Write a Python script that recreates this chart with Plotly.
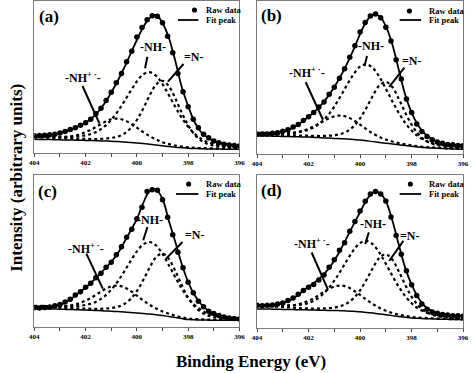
import plotly.graph_objects as go

# ---------------- data ----------------
energy_raw = [404.0, 403.8, 403.6, 403.4, 403.2, 403.0, 402.8, 402.6, 402.4, 402.2, 402.0,
              401.8, 401.6, 401.4, 401.2, 401.0, 400.8, 400.6, 400.4, 400.2, 400.0,
              399.8, 399.6, 399.4, 399.2, 399.0, 398.8, 398.6, 398.4, 398.2, 398.0,
              397.8, 397.6, 397.4, 397.2, 397.0, 396.8, 396.6, 396.4, 396.2, 396.0]
energy_fit = [404.0, 403.75, 403.5, 403.25, 403.0, 402.75, 402.5, 402.25, 402.0, 401.75, 401.5,
              401.25, 401.0, 400.75, 400.5, 400.25, 400.0, 399.75, 399.5, 399.25, 399.0,
              398.75, 398.5, 398.25, 398.0, 397.75, 397.5, 397.25, 397.0, 396.75, 396.5,
              396.25, 396.0]

# panel (a)
raw_a = [17.3, 17.6, 17.7, 18.3, 18.7, 20.1, 21.4, 23.6, 25.3, 27.8, 30.2, 33.8, 39.3, 44.7, 52.4,
         60.8, 70.3, 79.6, 91.2, 101.8, 116.0, 125.6, 133.3, 137.2, 136.8, 130.2, 116.7, 100.3,
         79.6, 61.3, 46.2, 33.7, 25.2, 18.8, 15.2, 11.9, 10.2, 8.8, 8.1, 7.4, 7.1]
fit_a = [17.0, 17.4, 17.9, 18.6, 19.8, 21.8, 24.2, 27.0, 30.5, 35.0, 41.5, 50.0, 60.5, 72.0, 85.0,
         99.0, 113.0, 126.0, 135.0, 138.0, 130.0, 115.0, 92.0, 66.0, 47.0, 31.0, 21.0, 15.5, 12.0,
         10.0, 8.8, 8.0, 7.5]
bg_a = [13.7, 13.6, 13.5, 13.3, 13.2, 13.0, 12.9, 12.7, 12.6, 12.4, 12.2, 12.0, 11.8, 11.4, 11.0,
        10.5, 10.0, 9.4, 8.8, 8.0, 7.2, 6.5, 5.8, 5.3, 4.8, 4.5, 4.3, 4.1, 4.0, 3.9, 3.8, 3.7, 3.7]
nhp_a = [15.8, 15.8, 15.7, 15.6, 15.8, 16.1, 17.0, 18.5, 20.9, 23.9, 27.5, 31.1, 33.7, 34.4, 32.9,
         29.6, 25.3, 20.9, 16.9, 13.5, 10.8, 8.9, 7.5, 6.5, 5.7, 5.2, 4.9, 4.7, 4.5, 4.3, 4.2, 4.0, 4.0]
nh_a = [16.4, 16.5, 16.3, 16.1, 16.1, 16.1, 16.3, 16.6, 17.7, 19.3, 22.3, 26.8, 33.3, 41.4, 51.2,
        61.8, 71.6, 78.6, 80.8, 77.2, 68.8, 57.8, 46.0, 35.3, 26.3, 19.3, 14.4, 11.0, 8.9, 7.5, 6.7,
        6.1, 5.7]
n_a = [15.7, 15.6, 15.4, 15.1, 14.8, 14.6, 14.4, 14.1, 14.1, 14.0, 14.0, 14.4, 15.1, 16.4, 19.3,
       24.5, 33.0, 44.5, 57.6, 68.3, 72.2, 66.8, 54.6, 40.4, 27.8, 18.5, 12.6, 9.1, 7.3, 6.3, 5.6,
       5.3, 5.0]

# panel (b)
raw_b = [19.6, 19.8, 19.9, 20.6, 21.2, 22.7, 24.0, 26.8, 29.3, 33.2, 37.0, 41.3, 46.8, 51.7, 59.3,
         66.4, 75.3, 84.7, 96.2, 107.6, 121.3, 130.7, 137.2, 139.0, 135.3, 125.8, 112.3, 93.7, 74.4,
         54.7, 41.2, 29.8, 22.3, 17.4, 14.2, 11.8, 10.6, 9.4, 9.1, 8.4, 8.1]
fit_b = [19.2, 19.5, 19.9, 20.6, 22.0, 24.2, 27.5, 32.0, 37.0, 42.5, 49.0, 57.0, 66.5, 77.5, 90.0,
         104.0, 119.0, 132.0, 138.5, 137.0, 127.0, 109.0, 84.0, 59.0, 41.0, 28.5, 20.5, 15.5, 12.5,
         10.5, 9.5, 8.8, 8.3]
bg_b = [18.0, 17.9, 17.8, 17.6, 17.5, 17.3, 17.1, 17.0, 16.8, 16.5, 16.2, 15.8, 15.5, 15.2, 14.8,
        14.3, 13.8, 13.1, 12.3, 11.5, 10.7, 10.0, 9.2, 8.4, 7.6, 7.0, 6.4, 6.0, 5.7, 5.4, 5.1, 4.9, 4.8]
nhp_b = [20.1, 20.1, 20.0, 19.9, 20.1, 20.4, 21.2, 22.8, 25.1, 28.0, 31.5, 34.9, 37.4, 38.2, 36.7,
         33.4, 29.1, 24.6, 20.4, 17.0, 14.3, 12.4, 10.9, 9.6, 8.5, 7.7, 7.0, 6.6, 6.2, 5.8, 5.5, 5.2, 5.1]
nh_b = [20.9, 21.0, 20.9, 20.8, 21.0, 21.0, 21.4, 22.5, 24.3, 27.1, 31.9, 38.4, 47.2, 57.7, 68.9,
        79.4, 86.8, 89.1, 85.3, 76.6, 64.8, 52.5, 40.9, 31.0, 23.3, 17.6, 13.7, 11.2, 9.5, 8.4, 7.7,
        7.0, 6.6]
n_b = [20.0, 19.9, 19.7, 19.3, 19.1, 18.8, 18.5, 18.3, 18.2, 18.0, 17.9, 18.1, 18.6, 19.9, 22.5,
       27.5, 35.4, 46.0, 58.1, 68.1, 71.7, 66.6, 55.0, 41.3, 29.2, 20.2, 14.1, 10.7, 8.8, 7.7, 6.8,
       6.4, 6.0]

# panel (c)
raw_c = [19.2, 19.0, 19.6, 19.9, 21.2, 22.4, 25.1, 27.8, 31.9, 35.3, 39.7, 43.8, 49.2, 53.8, 59.7,
         64.8, 72.3, 80.2, 89.7, 97.8, 108.3, 119.7, 135.5, 137.2, 136.8, 127.3, 109.7, 92.2, 74.8,
         59.3, 44.8, 34.2, 25.8, 20.2, 15.8, 13.6, 11.4, 10.1, 8.9, 8.6, 8.0]
fit_c = [18.8, 19.1, 19.5, 20.3, 22.0, 25.0, 29.5, 34.5, 39.5, 45.0, 51.5, 58.0, 65.0, 73.5, 84.5,
         96.0, 108.0, 124.0, 136.0, 137.5, 128.0, 106.0, 85.0, 63.0, 45.0, 32.0, 23.0, 17.0, 13.5,
         11.5, 10.0, 9.0, 8.5]
bg_c = [18.4, 18.3, 18.1, 18.0, 17.8, 17.6, 17.4, 17.2, 17.0, 16.7, 16.4, 16.1, 15.8, 15.4, 15.0,
        14.5, 14.0, 13.5, 13.0, 12.3, 11.5, 10.5, 9.5, 8.4, 7.4, 7.2, 7.0, 6.9, 6.8, 6.8, 6.7, 6.7, 6.7]
nhp_c = [20.6, 20.6, 20.4, 20.4, 20.6, 21.0, 22.0, 23.7, 26.4, 29.7, 33.7, 37.7, 40.6, 41.4, 39.8,
         36.1, 31.3, 26.5, 22.2, 18.5, 15.6, 13.2, 11.4, 9.7, 8.4, 8.0, 7.7, 7.5, 7.4, 7.3, 7.1, 7.1, 7.0]
nh_c = [21.1, 21.2, 20.9, 20.8, 20.7, 20.7, 20.8, 21.1, 22.1, 23.6, 26.5, 30.9, 37.3, 45.4, 55.2,
        65.8, 75.6, 82.7, 85.0, 81.5, 73.1, 61.8, 49.7, 38.4, 28.9, 22.0, 17.1, 13.8, 11.7, 10.4,
        9.6, 9.1, 8.7]
n_c = [20.4, 20.3, 20.0, 19.7, 19.4, 19.1, 18.8, 18.6, 18.4, 18.2, 18.1, 18.4, 18.9, 20.2, 22.9,
       27.9, 35.9, 47.0, 59.5, 69.8, 73.5, 68.0, 56.0, 41.9, 29.3, 20.6, 14.9, 11.7, 9.9, 9.1, 8.4,
       8.2, 7.9]

# panel (d)
raw_d = [22.5, 22.1, 22.6, 22.8, 23.9, 24.8, 27.2, 29.7, 33.6, 37.3, 40.6, 43.2, 47.8, 52.7, 60.3,
         67.8, 77.2, 84.8, 96.1, 105.7, 116.2, 125.8, 133.2, 135.6, 133.1, 126.2, 110.3, 91.8, 73.2,
         56.8, 42.9, 32.2, 23.8, 18.6, 15.8, 14.6, 13.3, 12.9, 12.2, 12.1, 11.7]
fit_d = [21.5, 21.8, 22.2, 23.0, 24.5, 27.0, 31.0, 36.0, 41.0, 45.5, 51.0, 58.0, 67.0, 78.0, 90.5,
         103.0, 115.0, 127.0, 134.5, 134.5, 126.0, 107.0, 83.0, 60.0, 43.0, 30.5, 22.0, 17.5, 15.0,
         13.5, 12.8, 12.3, 12.0]
bg_d = [19.0, 18.9, 18.8, 18.6, 18.5, 18.4, 18.2, 18.1, 18.0, 17.8, 17.7, 17.5, 17.4, 17.2, 17.0,
        16.6, 16.2, 15.5, 14.8, 14.0, 13.2, 12.3, 11.4, 10.7, 10.0, 9.6, 9.3, 9.1, 8.9, 8.7, 8.5, 8.4, 8.3]
nhp_d = [22.2, 22.2, 22.0, 21.8, 21.9, 22.2, 23.0, 24.6, 27.1, 30.3, 34.4, 38.2, 41.2, 42.2, 40.8,
         37.3, 32.9, 28.0, 23.7, 20.0, 17.2, 14.9, 13.2, 12.0, 11.0, 10.4, 10.0, 9.7, 9.4, 9.2, 8.9,
         8.8, 8.6]
nh_d = [22.8, 22.9, 22.7, 22.5, 22.5, 22.4, 22.6, 23.4, 25.0, 27.7, 32.3, 38.7, 47.0, 56.9, 67.6,
        77.4, 84.4, 86.5, 83.0, 74.8, 63.8, 52.0, 41.0, 31.9, 24.6, 19.5, 16.1, 13.9, 12.5, 11.5,
        10.9, 10.4, 10.0]
n_d = [22.0, 21.9, 21.5, 21.1, 20.8, 20.4, 19.9, 19.6, 19.4, 19.2, 19.4, 19.7, 20.4, 21.8, 24.6,
       29.6, 37.4, 47.9, 59.8, 69.7, 73.2, 68.0, 56.4, 43.1, 31.2, 22.6, 16.9, 13.7, 11.9, 10.9,
       10.2, 9.8, 9.5]

panel_letters = ["(a)", "(b)", "(c)", "(d)"]
component_labels = ["-NH<sup>+ \u00b7</sup>-", "-NH-", "=N-"]
legend_labels = ["Raw data", "Fit peak"]
x_tick_values = [404, 402, 400, 398, 396]
x_tick_text = ["404", "402", "400", "398", "396"]
x_title = "Binding Energy (eV)"
y_title = "Intensity (arbitrary units)"

# ---------------- layout / styling ----------------
W, H = 474, 373
FONT = "Liberation Serif"
FRAME = "#7a7a7a"

def px_x(v):
    return v / W

def px_y(v):
    return 1 - v / H

panels = [
    dict(raw=raw_a, fit=fit_a, bg=bg_a, comps=[nhp_a, nh_a, n_a],
         box=(30, 240, 1, 153), letter=(45, 16),
         leg_dot=(194, 10), leg_line=(177, 198, 20), leg_text=204, leg_y=(10, 20),
         lab=[(402.10, 76), (399.39, 106), (397.79, 96)],
         ptr=[(402.12, 67, 401.46, 29.7), (399.59, 96.3, 399.68, 84.7), (398.18, 89, 398.79, 71.3)]),
    dict(raw=raw_b, fit=fit_b, bg=bg_b, comps=[nhp_b, nh_b, n_b],
         box=(258, 469, 1, 154), letter=(273, 15),
         leg_dot=(414, 11), leg_line=(404, 426, 20), leg_text=432, leg_y=(11, 20),
         lab=[(402.07, 81), (399.58, 107), (397.97, 92)],
         ptr=[(402.11, 71.3, 401.44, 34), (399.73, 97.3, 399.83, 87.3), (398.28, 85.7, 398.87, 66.7)]),
    dict(raw=raw_c, fit=fit_c, bg=bg_c, comps=[nhp_c, nh_c, n_c],
         box=(30, 240, 175, 327), letter=(44, 191),
         leg_dot=(188, 184), leg_line=(175, 198, 194), leg_text=204, leg_y=(184, 194),
         lab=[(401.97, 78.4), (399.47, 107.4), (397.75, 91.7)],
         ptr=[(401.97, 73.4, 401.33, 38.4), (399.59, 100, 399.75, 86.7), (398.22, 85, 398.86, 68.4)]),
    dict(raw=raw_d, fit=fit_d, bg=bg_d, comps=[nhp_d, nh_d, n_d],
         box=(258, 469, 175, 328), letter=(273, 190),
         leg_dot=(415, 184), leg_line=(404, 426, 194), leg_text=432, leg_y=(184, 194),
         lab=[(401.88, 84.3), (399.48, 103.3), (398.05, 91.6)],
         ptr=[(401.88, 75, 401.25, 38.3), (399.66, 95, 399.8, 83.3), (398.32, 86.6, 398.87, 66.6)]),
]

fig = go.Figure()
annotations = []
shapes = []

for k, p in enumerate(panels):
    sfx = "" if k == 0 else str(k + 1)
    xa, ya = "x" + sfx, "y" + sfx
    common = dict(xaxis=xa, yaxis=ya, showlegend=False, hoverinfo="skip")
    fig.add_trace(go.Scatter(x=energy_fit, y=p["bg"], mode="lines",
                             line=dict(color="black", width=1.5, shape="spline"), **common))
    for comp in p["comps"]:
        fig.add_trace(go.Scatter(x=energy_fit, y=comp, mode="lines",
                                 line=dict(color="black", width=2.2, dash="3px,3px", shape="spline"),
                                 **common))
    fig.add_trace(go.Scatter(x=energy_fit, y=p["fit"], mode="lines", name=legend_labels[1],
                             line=dict(color="black", width=1.8, shape="spline"), **common))
    fig.add_trace(go.Scatter(x=energy_raw, y=p["raw"], mode="markers", name=legend_labels[0],
                             marker=dict(color="black", size=5.5), **common))

    x0, x1, y0, y1 = p["box"]
    fig.layout["xaxis" + sfx] = dict(
        domain=[px_x(x0), px_x(x1)], range=[404, 396], anchor=ya,
        tickvals=x_tick_values, ticktext=x_tick_text,
        ticks="outside", ticklen=3, tickwidth=1, tickcolor="#444",
        minor=dict(dtick=1, tick0=396, ticks="outside", ticklen=3, tickwidth=1, tickcolor="#444"),
        showline=True, linecolor=FRAME, linewidth=1, mirror=True,
        showgrid=False, zeroline=False, fixedrange=True,
        tickfont=dict(family=FONT, size=7, color="black", weight="bold"))
    fig.layout["yaxis" + sfx] = dict(
        domain=[px_y(y1), px_y(y0)], range=[0, 152], anchor=xa,
        showticklabels=False, ticks="", showline=True, linecolor=FRAME, linewidth=1,
        mirror=True, showgrid=False, zeroline=False, fixedrange=True)

    # panel letter
    lx, ly = p["letter"]
    annotations.append(dict(x=px_x(lx), y=px_y(ly), xref="paper", yref="paper",
                            text="<b>" + panel_letters[k] + "</b>", showarrow=False,
                            font=dict(family=FONT, size=17, color="black"),
                            xanchor="center", yanchor="middle"))
    # component labels
    for (ex, ey), txt in zip(p["lab"], component_labels):
        annotations.append(dict(x=ex, y=ey, xref=xa, yref=ya, text="<b>" + txt + "</b>",
                                showarrow=False, font=dict(family=FONT, size=12, color="black"),
                                xanchor="center", yanchor="middle"))
    for (ax0, ay0, ax1, ay1) in p["ptr"]:
        shapes.append(dict(type="line", xref=xa, yref=ya, x0=ax0, y0=ay0, x1=ax1, y1=ay1,
                           line=dict(color="black", width=2)))
    # legend (drawn in paper space)
    dx, dy = p["leg_dot"]
    r = 2.6
    shapes.append(dict(type="circle", xref="paper", yref="paper",
                       x0=px_x(dx - r), x1=px_x(dx + r), y0=px_y(dy + r), y1=px_y(dy - r),
                       fillcolor="black", line=dict(color="black", width=0)))
    lx0, lx1, lyy = p["leg_line"]
    shapes.append(dict(type="line", xref="paper", yref="paper",
                       x0=px_x(lx0), x1=px_x(lx1), y0=px_y(lyy), y1=px_y(lyy),
                       line=dict(color="black", width=1.8)))
    for txt, ty in zip(legend_labels, p["leg_y"]):
        annotations.append(dict(x=px_x(p["leg_text"]), y=px_y(ty), xref="paper", yref="paper",
                                text="<b>" + txt + "</b>", showarrow=False,
                                font=dict(family=FONT, size=8.5, color="black"),
                                xanchor="left", yanchor="middle"))

annotations.append(dict(x=px_x(11), y=px_y(178), xref="paper", yref="paper",
                        text="<b>" + y_title + "</b>", textangle=-90, showarrow=False,
                        font=dict(family=FONT, size=17, color="black"),
                        xanchor="center", yanchor="middle"))
annotations.append(dict(x=px_x(252), y=px_y(361), xref="paper", yref="paper",
                        text="<b>" + x_title + "</b>", showarrow=False,
                        font=dict(family=FONT, size=17, color="black"),
                        xanchor="center", yanchor="middle"))

fig.update_layout(width=W, height=H, margin=dict(l=0, r=0, t=0, b=0),
                  paper_bgcolor="white", plot_bgcolor="white", hovermode=False,
                  showlegend=False, annotations=annotations, shapes=shapes)

fig.write_html("out.html", config={"displayModeBar": False, "staticPlot": True},
               post_script="document.body.style.margin='0';document.body.style.padding='0';"
                           "document.body.style.overflow='hidden';")
